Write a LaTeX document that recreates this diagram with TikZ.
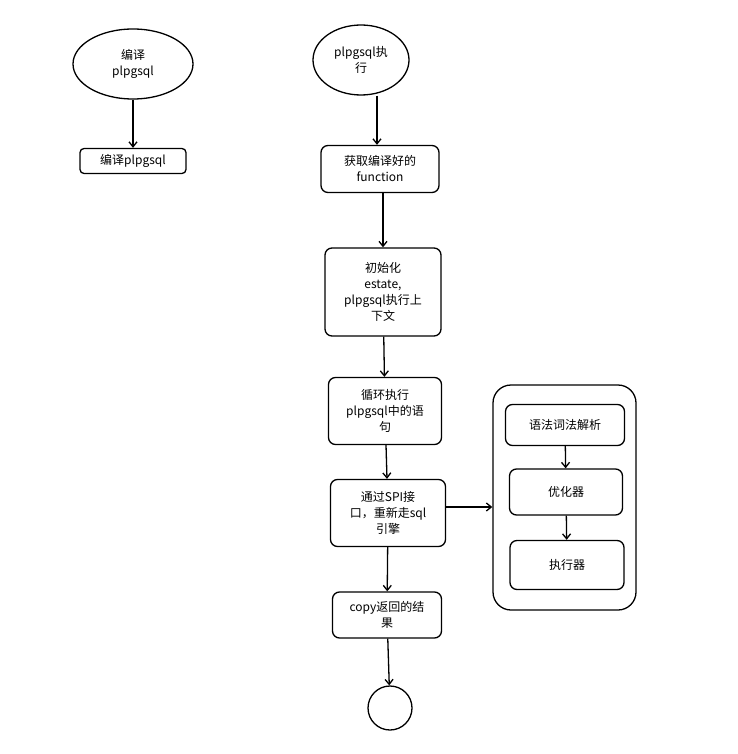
\documentclass[tikz,border=0pt]{standalone}
\usepackage{fontspec}
\setmainfont{Noto Sans CJK SC}
\usetikzlibrary{arrows.meta, shapes.geometric, positioning}

\begin{document}
\begin{tikzpicture}[x=1pt, y=-1pt,
    box/.style={draw, line width=1.3pt, rounded corners=7pt, align=center, font=\fontsize{12}{16}\selectfont, inner sep=2pt},
    start/.style={draw, ellipse, line width=1.3pt, align=center, font=\fontsize{12}{16}\selectfont, inner sep=0pt},
    flow/.style={-{Straight Barb[length=5pt, width=8pt]}, line width=1.3pt}]
    % Rand
    \useasboundingbox[fill=white] (0,0) rectangle (737,754);

    % Links: Compilieren
    \node[start, minimum width=120pt, minimum height=70pt] (compile) at (133,64) {编译\\plpgsql};
    \node[box, minimum width=106pt, minimum height=25pt, rounded corners=4pt] (compilebox) at (133,161) {编译plpgsql};
    \draw[flow] (compile) -- (compilebox);

    % Ausführung
    \node[start, minimum width=96pt, minimum height=70pt] (exec) at (361,60) {plpgsql执\\行};
    \node[box, minimum width=118pt, minimum height=47pt] (fetch) at (380,169) {获取编译好的\\function};
    \node[box, minimum width=116pt, minimum height=88pt, text width=100pt] (init) at (383,292) {初始化\\estate,\\plpgsql执行上\\下文};
    \node[box, minimum width=113pt, minimum height=67pt] (loop) at (385,411) {循环执行\\plpgsql中的语\\句};
    \node[box, minimum width=115pt, minimum height=67pt] (spi) at (388,513) {通过SPI接\\口，重新走sql\\引擎};
    \node[box, minimum width=109pt, minimum height=46pt] (copy) at (387,615) {copy返回的结\\果};
    \node[draw, circle, line width=1.3pt, minimum size=44pt] (stop) at (390,708) {};

    \draw[flow] (exec.south -| 377,0) -- (fetch.north -| 377,0);
    \draw[flow] (fetch.south -| init) -- (init);
    \draw[flow] (init) -- (loop);
    \draw[flow] (loop) -- (spi);
    \draw[flow] (spi) -- (copy);
    \draw[flow] (copy) -- (stop);

    % SQL-Engine
    \node[draw, line width=1.3pt, rounded corners=18pt, minimum width=143pt, minimum height=225pt] (engine) at (564.5,497.5) {};
    \node[box, minimum width=119pt, minimum height=41pt] (parse) at (565,425) {语法词法解析};
    \node[box, minimum width=113pt, minimum height=46pt] (opt) at (566,492) {优化器};
    \node[box, minimum width=114pt, minimum height=49pt] (run) at (567,565) {执行器};
    \draw[flow] (parse) -- (opt);
    \draw[flow] (opt) -- (run);
    \draw[flow] (spi.east |- 0,507) -- (engine.west |- 0,507);
\end{tikzpicture}
\end{document}
